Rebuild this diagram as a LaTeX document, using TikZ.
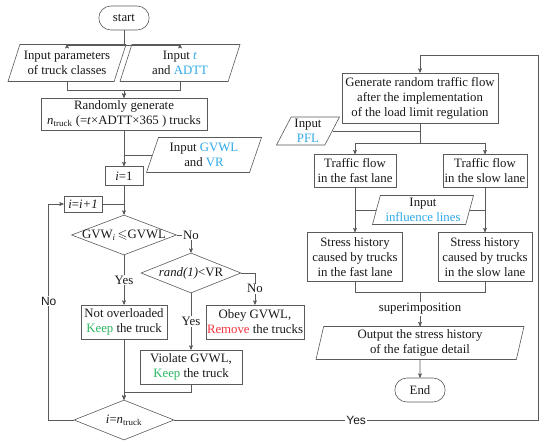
\documentclass[tikz,border=0pt]{standalone}
\usepackage{amssymb}
\usepackage{fontspec}
\setmainfont{Liberation Serif}
\newfontfamily\lsans{Liberation Sans}
\usepackage{tikz}
\usetikzlibrary{shapes.geometric, shapes.misc, positioning, arrows}
\definecolor{inblue}{HTML}{2FA8E8}
\definecolor{okgreen}{HTML}{2DB862}
\definecolor{rmred}{HTML}{F5333F}
\definecolor{flowgray}{HTML}{5A5A5A}
\tikzset{->,>=stealth',
on grid,
every node/.style={font=\fontsize{12.8}{15}\selectfont, text=black!90},
proc/.style={draw=flowgray, rectangle, align=center, inner sep=1pt, fill=white},
term/.style={draw=flowgray, rounded rectangle, minimum width=57pt, minimum height=24pt},
io/.style={draw=flowgray, trapezium, trapezium stretches body, trapezium left angle=65,
  trapezium right angle=115, align=center, inner xsep=0pt, inner ysep=1pt, fill=white},
dec/.style={draw=flowgray, diamond, inner sep=-40pt, minimum width=100pt, minimum height=40pt},
lbl/.style={fill=white, inner sep=1pt},
sanslbl/.style={lbl, font=\lsans\fontsize{12}{14}\selectfont}
}
\newcommand{\inb}[1]{\textcolor{inblue}{#1}}
\newcommand{\keepw}{\textcolor{okgreen}{Keep}}

\begin{document}
\begin{tikzpicture}[x=1pt, y=1pt, flowgray, semithick]
\useasboundingbox (0,0) rectangle (550,-447);
% truck generation
\node[term] (start) at (124,-18) {start};
\node[io, minimum width=118pt, minimum height=37pt, below left=45pt and 57pt of start] (trk) {Input parameters\\of truck classes};
\node[io, minimum width=120pt, minimum height=37pt, below right=45pt and 56pt of start] (adtt) {Input \inb{\textit{t}}\\and \inb{ADTT}};
\node[proc, minimum width=166pt, minimum height=32pt, below=96pt of start] (gen) {Randomly generate\\\textit{n}\textsubscript{truck} (=\textit{t}×ADTT×365 ) trucks};
\node[io, minimum width=115pt, minimum height=35pt, below right=41pt and 80pt of gen] (gvwl) {Input \inb{GVWL}\\and \inb{VR}};
\node[proc, minimum width=38pt, minimum height=19pt, below=62pt of gen] (i1) {\textit{i}=1};
\node[proc, minimum width=38pt, minimum height=16pt, below left=28pt and 41pt of i1] (inc) {\textit{i}=\textit{i+1}};
% load limit check
\node[dec, minimum width=105pt, below=59pt of i1] (chk) {GVW\textsubscript{\textit{i}}$\,\leqslant$GVWL};
\node[dec, below right=38pt and 67pt of chk] (dvr) {\textit{rand(1)}{<}VR};
\node[proc, minimum width=86pt, minimum height=34pt, below=87pt of chk] (keep) {Not overloaded\\\keepw{} the truck};
\node[proc, minimum width=95pt, minimum height=34pt, below right=49pt and 64pt of dvr] (obey) {Obey GVWL,\\\textcolor{rmred}{Remove} the trucks};
\node[proc, minimum width=102pt, minimum height=34pt, below=94pt of dvr] (viol) {Violate GVWL,\\\keepw{} the truck};
\node[dec, below=98pt of keep] (last) {\textit{i}=\textit{n}\textsubscript{truck}};
% stress history
\node[proc, minimum width=156pt, minimum height=50pt] (flow) at (420,-98) {Generate random traffic flow\\after the implementation\\of the load limit regulation};
\node[io, trapezium left angle=60, trapezium right angle=120, minimum width=63pt, minimum height=28pt, below left=33pt and 112pt of flow] (pfl) {Input\\\inb{PFL}};
\node[proc, minimum width=82pt, minimum height=33pt, below left=73pt and 65pt of flow] (fast) {Traffic flow\\in the fast lane};
\node[proc, minimum width=84pt, minimum height=33pt, below right=73pt and 65pt of flow] (slow) {Traffic flow\\in the slow lane};
\node[io, trapezium left angle=73, trapezium right angle=107, minimum width=101pt, minimum height=29pt, below right=112pt and 3pt of flow] (infl) {Input\\\inb{influence lines}};
\node[proc, minimum width=95pt, minimum height=49pt, below=86pt of fast] (sfast) {Stress history\\caused by trucks\\in the fast lane};
\node[proc, minimum width=94pt, minimum height=49pt, below=86pt of slow] (sslow) {Stress history\\caused by trucks\\in the slow lane};
\node[io, trapezium left angle=75, trapezium right angle=105, minimum width=208pt, minimum height=33pt, below=245pt of flow] (out) {Output the stress history\\of the fatigue detail};
\node[term, below=47pt of out] (end) {End};
\coordinate (ret) at (538,-55);

\draw (start.south) -- ++(0,-15) -| (trk.north);
\draw (start.south) -- ++(0,-15) -| (adtt.north);
\draw (trk.south) -- ++(0,-8) -| (gen.north);
\draw (adtt.south) -- ++(0,-8) -| (gen.north);
\draw (gen) -- (i1);
\draw[-] (gvwl.west) -- (gvwl.west -| gen.south);
\draw (i1) -- (chk);
\draw[-] (inc.east) -- (inc.east -| i1.south);
\draw (chk.east) -| node[lbl]{No} (dvr.north);
\draw (dvr.east) -| node[lbl, pos=0.75]{No} (obey.north);
\draw (chk.south) -- node[lbl]{Yes} (keep.north);
\draw (dvr.south) -- node[lbl]{Yes} (viol.north);
\draw (keep) -- (last);
\draw (viol.south) -- ++(0,-8) -| (last.north);
\draw (last.west) -- ++(-25,0) |- node[sanslbl, pos=0.275]{No} (inc.west);
\draw (last.east) -- node[sanslbl]{Yes} (last.east -| ret) -- (ret) -| (flow.north);

\draw (flow.south) -- ++(0,-20) -| (fast.north);
\draw (flow.south) -- ++(0,-20) -| (slow.north);
\draw[-] (pfl.east) -- (pfl.east -| flow.south);
\draw (fast) -- (sfast);
\draw (slow) -- (sslow);
\draw[-] (infl.west) -- (infl.west -| fast.south);
\draw[-] (infl.east) -- (infl.east -| slow.south);
\draw[-] (sslow.south) -- ++(0,-10) -| (out.north);
\draw (sfast.south) -- ++(0,-10) -| node[lbl, pos=0.75]{superimposition} (out.north);
\draw (out) -- (end);
\end{tikzpicture}
\end{document}
